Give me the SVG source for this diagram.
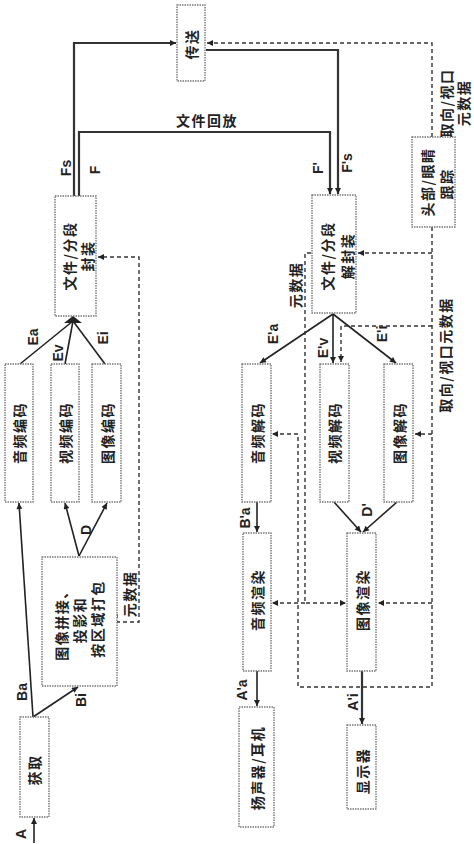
<svg xmlns="http://www.w3.org/2000/svg" width="474" height="844" viewBox="0 0 474 844">
<defs>
<marker id="ah" viewBox="0 0 10 10" refX="10" refY="5" markerWidth="7" markerHeight="6" markerUnits="userSpaceOnUse" orient="auto"><path d="M0,0 L10,5 L0,10 z" fill="#222"/></marker>
</defs>
<style>
.box{fill:#fff;stroke:#777;stroke-width:1.4;stroke-dasharray:1.5 1}
.t{font-family:"Noto Sans CJK SC","Liberation Sans",sans-serif;font-size:14px;font-weight:bold;fill:#222;letter-spacing:1.5px;text-anchor:middle;dominant-baseline:central}
.l{font-family:"Liberation Sans","DejaVu Sans",sans-serif;font-size:14px;font-weight:bold;fill:#222;text-anchor:middle;dominant-baseline:central}
.s{fill:none;stroke:#222;stroke-width:1.6}
.f{fill:none;stroke:#333;stroke-width:2.2}
.d{fill:none;stroke:#333;stroke-width:1.4;stroke-dasharray:4 3}
</style>
<rect width="474" height="844" fill="#fff"/>
<g id="connectors">
<path class="s" d="M34,843 L34,818" marker-end="url(#ah)"/>
<path class="s" d="M33,717 L19,503" marker-end="url(#ah)"/>
<path class="s" d="M33,717 L78,687" marker-end="url(#ah)"/>
<path class="s" d="M79,556 L65,503" marker-end="url(#ah)"/>
<path class="s" d="M79,556 L107,503" marker-end="url(#ah)"/>
<path class="s" d="M20,364 L73,321"/>
<path class="s" d="M65,364 L73,321"/>
<path class="s" d="M105,364 L73,321"/>
<path d="M73,316 L82,323 L73,323 L64,323 z" fill="#222"/>
<path class="f" d="M74,196 L74,43 L176,43" marker-end="url(#ah)"/>
<path class="f" d="M79,196 L79,132 L330,132 L330,194" marker-end="url(#ah)"/>
<path class="f" d="M206,50 L338,50 L338,194" marker-end="url(#ah)"/>
<path class="s" d="M333,314 L260,363" marker-end="url(#ah)"/>
<path class="s" d="M333,314 L333,363" marker-end="url(#ah)"/>
<path class="s" d="M333,314 L396,363" marker-end="url(#ah)"/>
<path class="s" d="M257,502 L257,532" marker-end="url(#ah)"/>
<path class="s" d="M334,502 L361,532" marker-end="url(#ah)"/>
<path class="s" d="M397,502 L363,532" marker-end="url(#ah)"/>
<path class="s" d="M257,671 L257,706" marker-end="url(#ah)"/>
<path class="f" d="M362,671 L362,724" marker-end="url(#ah)"/>
<path class="d" d="M117,614 L117,622 L139,622 L139,257 L98,257" marker-end="url(#ah)"/>
<path class="d" d="M432,137 L432,43 L207,43" marker-end="url(#ah)"/>
<path class="d" d="M432,227 L432,687 L298,687 L298,434 L272,434" marker-end="url(#ah)"/>
<path class="d" d="M432,253 L358,253" marker-end="url(#ah)"/>
<path class="d" d="M432,326 L341,326 L341,362" marker-end="url(#ah)"/>
<path class="d" d="M432,434 L415,434" marker-end="url(#ah)"/>
<path class="d" d="M432,603 L378,603" marker-end="url(#ah)"/>
<path class="d" d="M311,253 L305,253 L305,603 L346,603" marker-end="url(#ah)"/>
<path class="d" d="M305,603 L272,603" marker-end="url(#ah)"/>
<text class="t" x="207" y="120">文件回放</text>
</g>
<g id="acquire"><rect class="box" x="20" y="717" width="29" height="100"/><text class="t" transform="translate(34,770) rotate(-90)">获取</text></g>
<g id="stitch"><rect class="box" x="42" y="557" width="75" height="129"/>
<text class="t" transform="translate(61,622) rotate(-90)">图像拼接、</text>
<text class="t" transform="translate(79,620) rotate(-90)">投影和</text>
<text class="t" transform="translate(97,619) rotate(-90)">按区域打包</text></g>
<g id="meta1"><text class="t" transform="translate(129,594) rotate(-90)">元数据</text></g>
<g id="aenc"><rect class="box" x="5" y="364" width="28" height="138"/><text class="t" transform="translate(19,433) rotate(-90)">音频编码</text></g>
<g id="venc"><rect class="box" x="51" y="364" width="28" height="138"/><text class="t" transform="translate(65,433) rotate(-90)">视频编码</text></g>
<g id="ienc"><rect class="box" x="92" y="364" width="29" height="138"/><text class="t" transform="translate(107,433) rotate(-90)">图像编码</text></g>
<g id="mux"><rect class="box" x="55" y="196" width="41" height="120"/>
<text class="t" transform="translate(69,256) rotate(-90)">文件/分段</text>
<text class="t" transform="translate(87,256) rotate(-90)">封装</text></g>
<g id="send"><rect class="box" x="177" y="5" width="28" height="76"/><text class="t" transform="translate(191,44) rotate(-90)">传送</text></g>
<g id="track"><rect class="box" x="412" y="137" width="43" height="90"/>
<text class="t" transform="translate(427,182) rotate(-90)">头部/眼睛</text>
<text class="t" transform="translate(446,184) rotate(-90)">跟踪</text></g>
<g id="meta2"><text class="t" transform="translate(446,103) rotate(-90)">取向/视口</text>
<text class="t" transform="translate(463,103) rotate(-90)">元数据</text></g>
<g id="meta3"><text class="t" transform="translate(445,355) rotate(-90)">取向/视口元数据</text></g>
<g id="demux"><rect class="box" x="312" y="195" width="44" height="118"/>
<text class="t" transform="translate(327,256) rotate(-90)">文件/分段</text>
<text class="t" transform="translate(347,256) rotate(-90)">解封装</text></g>
<g id="meta4"><text class="t" transform="translate(295,285) rotate(-90)">元数据</text></g>
<g id="adec"><rect class="box" x="242" y="364" width="29" height="138"/><text class="t" transform="translate(257,433) rotate(-90)">音频解码</text></g>
<g id="vdec"><rect class="box" x="320" y="364" width="29" height="138"/><text class="t" transform="translate(334,433) rotate(-90)">视频解码</text></g>
<g id="idec"><rect class="box" x="384" y="364" width="29" height="138"/><text class="t" transform="translate(399,433) rotate(-90)">图像解码</text></g>
<g id="arend"><rect class="box" x="243" y="533" width="28" height="138"/><text class="t" transform="translate(257,600) rotate(-90)">音频渲染</text></g>
<g id="irend"><rect class="box" x="347" y="533" width="29" height="138"/><text class="t" transform="translate(362,600) rotate(-90)">图像渲染</text></g>
<g id="speaker"><rect class="box" x="239" y="707" width="35" height="120"/><text class="t" transform="translate(257,768) rotate(-90)">扬声器/耳机</text></g>
<g id="display"><rect class="box" x="347" y="725" width="29" height="84"/><text class="t" transform="translate(362,771) rotate(-90)">显示器</text></g>
<g id="labels">
<text class="l" transform="translate(21,834) rotate(-90)">A</text>
<text class="l" transform="translate(22,692) rotate(-90)">Ba</text>
<text class="l" transform="translate(81,700) rotate(-90)">Bi</text>
<text class="l" transform="translate(33,337) rotate(-90)">Ea</text>
<text class="l" transform="translate(58,353) rotate(-90)">Ev</text>
<text class="l" transform="translate(103,338) rotate(-90)">Ei</text>
<text class="l" transform="translate(86,530) rotate(-90)">D</text>
<text class="l" transform="translate(66,168) rotate(-90)">Fs</text>
<text class="l" transform="translate(95,170) rotate(-90)">F</text>
<text class="l" transform="translate(318,168) rotate(-90)">F'</text>
<text class="l" transform="translate(347,163) rotate(-90)">F's</text>
<text class="l" transform="translate(273,334) rotate(-90)">E'a</text>
<text class="l" transform="translate(323,348) rotate(-90)">E'v</text>
<text class="l" transform="translate(382,334) rotate(-90)">E'i</text>
<text class="l" transform="translate(245,518) rotate(-90)">B'a</text>
<text class="l" transform="translate(367,510) rotate(-90)">D'</text>
<text class="l" transform="translate(242,690) rotate(-90)">A'a</text>
<text class="l" transform="translate(353,702) rotate(-90)">A'i</text>
</g>
</svg>
